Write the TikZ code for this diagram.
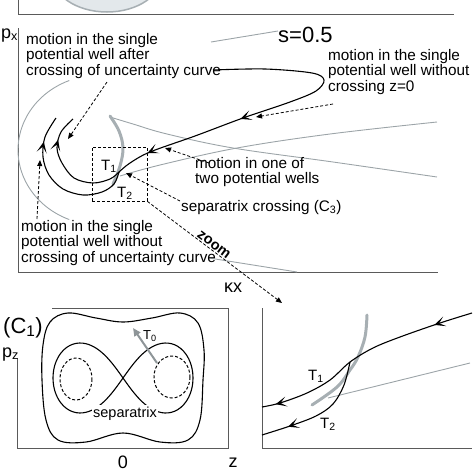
\documentclass[tikz,border=0pt]{standalone}
\usepackage{fontspec}
\setmainfont{Liberation Sans}
\usetikzlibrary{arrows.meta,positioning,calc,decorations.markings}
\definecolor{frame}{HTML}{5A5A5A}
\definecolor{ucurve}{HTML}{A7AFB3}
\definecolor{scurve}{HTML}{9CA4A8}
\definecolor{bowlbg}{HTML}{E3E8EB}
\tikzset{
  chv/.tip={Stealth[length=11pt,width=10pt,inset=6pt]},
  txt/.style={font=\fontsize{15.3}{15.5}\selectfont,inner sep=0pt,align=left},
  axlbl/.style={font=\fontsize{18}{20}\selectfont,inner sep=0pt},
  big/.style={font=\fontsize{22}{24}\selectfont,inner sep=0pt},
  tlbl/.style={font=\fontsize{15}{16}\selectfont,inner sep=0pt,anchor=base west},
  axis/.style={draw=frame,line width=0.9pt},
  traj/.style={draw=black,line width=1.1pt},
  unc/.style={draw=ucurve,line width=3pt,line cap=round},
  sepx/.style={draw=scurve,line width=0.9pt},
  leader/.style={dash pattern=on 3pt off 2pt,line width=0.8pt,
    -{Triangle[length=6pt,width=5pt]}},
  dbox/.style={draw,dash pattern=on 3pt off 2pt,line width=0.8pt,inner sep=0pt},
  chev/.style={postaction={decorate},decoration={markings,
    mark=at position #1 with {\arrow{chv}}}},
  chevs/.style 2 args={postaction={decorate},decoration={markings,
    mark=at position #1 with {\arrow{chv}},mark=at position #2 with {\arrow{chv}}}},
}
\begin{document}
\begin{tikzpicture}[x=1pt,y=-1pt]
  \useasboundingbox (0,0) rectangle (474,474);
  % --- strip of the panel above ---
  \begin{scope}
    \clip (0,0) rectangle (474,14);
    \draw[draw=ucurve,fill=bowlbg,line width=1.5pt] (107,-25) ellipse[x radius=55,y radius=37];
  \end{scope}
  \draw[axis] (18,0) |- (454,14);

  % --- main panel, s=0.5 ---
  \draw[axis] (18,28) |- (438,272);
  \node[axlbl,anchor=base west] (px) at (1,38) {p\textsubscript{x}};
  \node[axlbl] (kx) at (233,288) {κx};
  \node[big,anchor=base west] (sval) at (278,42) {s=0.5};
  \draw[sepx] (211,42) -- (sval.west |- 0,31);
  \draw[sepx] (69.3,80.5) arc[start angle=248,end angle=112,x radius=82,y radius=75];
  \draw[sepx] plot[smooth,tension=0.6] coordinates {(110,117) (133,124) (167,134) (233,148) (333,162) (437,177)};
  \draw[sepx] plot[smooth,tension=0.6] coordinates {(120,176) (160,165) (237,148) (330,134) (437,122)};
  \draw[sepx] (209,258) -- (297,272);
  \draw[unc] plot[smooth,tension=0.6] coordinates {(110,116) (119,131) (123,148) (120,166) (113,184)};

  \draw[traj,chevs={0.61}{0.9}] plot[smooth,tension=0.55] coordinates {(213,70) (265,69) (312,73)
    (324,80) (316,91) (290,102) (243,118) (195,136) (150,152) (130,163) (119,172)};
  \draw[traj,chev=0.78] plot[smooth,tension=0.55] coordinates {(119,172) (110,179) (93,183)
    (74,178) (62,163) (57,148) (61,132) (73,119)};
  \draw[traj,chev=0.82] plot[smooth,tension=0.55] coordinates {(119,172) (114,184) (102,192)
    (83,195) (63,189) (49,175) (43,157) (45,137) (56,118)};
  \node[tlbl] (t1) at (101,170) {T\textsubscript{1}};
  \node[tlbl] (t2) at (117,197) {T\textsubscript{2}};

  \node[txt,anchor=north west] (after) at (26,33) {motion in the single\\potential well after\\crossing of uncertainty curve};
  \node[txt,anchor=north west] (nozero) at (328,49) {motion in the single\\potential well without\\crossing z=0};
  \node[txt,anchor=north west] (onewell) at (195,157) {motion in one of\\two potential wells};
  \node[txt,anchor=north west] (sepcross) at (181,200) {separatrix crossing (C\textsubscript{3})};
  \node[txt,anchor=north west] (nocross) at (21,220) {motion in the single\\potential well without\\crossing of uncertainty curve};

  \coordinate (a1) at (107,82);  \coordinate (a1t) at (68,139);
  \coordinate (a2) at (333,104); \coordinate (a2t) at (256,117);
  \coordinate (a3) at (209,163); \coordinate (a3t) at (165,148);
  \coordinate (a4) at (180,201); \coordinate (a4t) at (126,173);
  \coordinate (a5) at (37,219);  \coordinate (a5t) at (40,160);
  \draw[leader] (a1) -- (a1t);
  \draw[leader] (a2) -- (a2t);
  \draw[leader] (a3) -- (a3t);
  \draw[leader] (a4) -- (a4t);
  \draw[leader] (a5) -- (a5t);

  \node[dbox,minimum width=55pt,minimum height=54pt] (zbox) at (119.5,174) {};
  \coordinate (zend) at (282,303);
  \draw[leader] (zbox.south east) -- node[pos=0.47,above,sloped,inner sep=1pt,
    font=\fontsize{14.5}{15.5}\selectfont\bfseries] (zlbl) {zoom} (zend);

  % --- zoomed view ---
  \draw[axis] (262,308) |- (472,448);
  \draw[sepx] (328,398) -- (470,363);
  \draw[unc] plot[smooth,tension=0.6] coordinates {(367,315) (365,337) (358,357) (350,370) (337,387) (312,405)};
  \draw[traj,chevs={0.17}{0.94}] plot[smooth,tension=0.55] coordinates {(472,313) (440,323) (400,337)
    (373,348) (350,362) (330,380) (307,393) (280,403) (262,407)};
  \draw[traj,chev=0.78] plot[smooth,tension=0.55] coordinates {(350,362) (344,385) (333,404)
    (316,416) (290,426) (262,435)};
  \node[tlbl] (zt1) at (308,380) {T\textsubscript{1}};
  \node[tlbl] (zt2) at (320,428) {T\textsubscript{2}};

  % --- panel (C1) ---
  \draw[axis] (17,358) |- (228,448) |- (52,308);
  \node[big,anchor=base west] (c1) at (3,333) {(C\textsubscript{1})};
  \node[axlbl,anchor=base west] (pz) at (2,357) {p\textsubscript{z}};
  \node[axlbl] (zero) at (123,462) {0};
  \node[axlbl] (zax) at (233,463) {z};
  \draw[traj] plot[smooth cycle,tension=0.6] coordinates {(123,322) (152,318) (180,313) (198,323)
    (204,350) (203,380) (200,420) (188,440) (160,442) (123,433) (86,442) (58,440) (46,420)
    (42,380) (43,345) (50,322) (68,313) (96,318)};
  \draw[traj] plot[domain=0:360,samples=120,smooth]
    ({123+70*cos(\x)/(1+sin(\x)*sin(\x))},{378+99*sin(\x)*cos(\x)/(1+sin(\x)*sin(\x))});
  \draw[dash pattern=on 3pt off 2pt,line width=1pt] (76,379) ellipse[x radius=16,y radius=21];
  \draw[dash pattern=on 3pt off 2pt,line width=1pt] (172,377) ellipse[x radius=18,y radius=21];
  \node[fill=white,inner sep=1pt,anchor=base,font=\fontsize{14.5}{15.5}\selectfont] (sepname) at (125,417) {separatrix};
  \coordinate (t0s) at (157,363); \coordinate (t0e) at (133,328);
  \draw[draw=ucurve!85!black,line width=2pt,-{Triangle[length=8pt,width=7pt]}] (t0s) -- (t0e);
  \node[inner sep=0pt,anchor=base west,font=\fontsize{13}{14}\selectfont] (t0) at (143,339) {T\textsubscript{0}};
\end{tikzpicture}
\end{document}
